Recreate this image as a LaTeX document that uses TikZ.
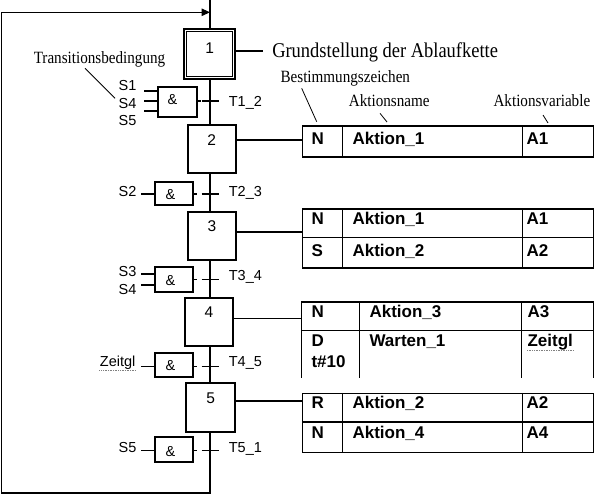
\documentclass[tikz,border=0pt]{standalone}
\usepackage{fontspec}
\setmainfont{Liberation Sans}
\newfontfamily\serifrm[FakeStretch=0.88]{Liberation Serif}
\usetikzlibrary{arrows.meta}
\begin{document}
\begin{tikzpicture}[x=1pt,y=-1pt,line width=1.1pt,
  stepbox/.style={draw,minimum width=48pt,minimum height=48pt,inner sep=0pt},
  andbox/.style={draw,minimum width=38pt,minimum height=24pt,inner sep=0pt},
  lab/.style={inner sep=0pt,anchor=base west,font=\fontsize{14.5}{17}\selectfont},
  labr/.style={lab,anchor=base east},
  num/.style={inner sep=0pt,anchor=base,font=\fontsize{15.5}{18}\selectfont},
  amp/.style={inner sep=0pt,anchor=center,font=\fontsize{14.5}{17}\selectfont},
  tab/.style={inner sep=0pt,anchor=base west,font=\fontsize{17}{20}\selectfont\bfseries},
  ser/.style={inner sep=0pt,anchor=base west,font=\serifrm\fontsize{17.2}{20}\selectfont},
  tablebox/.style={minimum width=291pt,inner sep=0pt},
  leader/.style={line width=0.8pt},
  squiggle/.style={line width=0.7pt,densely dotted,gray}]
\useasboundingbox (0,0) rectangle (594,495);

% ---------- steps
\node[stepbox,minimum width=51pt,minimum height=50pt] (s1) at (209.5,54) {};
\draw ([shift={(2.7,2.7)}]s1.north west) rectangle ([shift={(-2.7,-2.7)}]s1.south east);
\node[stepbox] (s2) at (212,149) {};
\node[stepbox] (s3) at (212,236) {};
\node[stepbox] (s4) at (209,322) {};
\node[stepbox,minimum width=49pt,minimum height=49pt] (s5) at (210.5,407.5) {};

\node[num] (n1) at (209.7,53.3) {1};
\node[num] (n2) at (211.7,145) {2};
\node[num] (n3) at (212,231.7) {3};
\node[num] (n4) at (209,317.3) {4};
\node[num] (n5) at (210.7,403.3) {5};

% ---------- main flow line with return arrow
\coordinate (top) at (210,0);
\coordinate (bot) at (210,493);
\coordinate (lb) at (1.5,493);
\coordinate (lt) at (1.5,12.3);
\coordinate (tip) at (210,12.3);
\draw (top) -- (top |- s1.north);
\draw (top |- s1.south) -- (top |- s2.north);
\draw (top |- s2.south) -- (top |- s3.north);
\draw (top |- s3.south) -- (top |- s4.north);
\draw (top |- s4.south) -- (top |- s5.north);
\draw[-{Triangle[length=8.5pt,width=7.5pt]}] (top |- s5.south) -- (bot) -- (lb) -- (lt) -- (tip);

% ---------- transitions
\coordinate (t1) at (210,101);
\coordinate (t2) at (210,194);
\coordinate (t3) at (210,279.3);
\coordinate (t4) at (210,366.7);
\coordinate (t5) at (210,450.7);
\foreach \n in {1,...,5} \draw ([xshift=-8.5pt]t\n) -- ([xshift=8.5pt]t\n);

% ---------- AND boxes
\node[andbox,minimum width=39pt,minimum height=30pt] (a1) at (177.5,102) {};
\node[andbox,minimum height=23pt] (a2) at (174,193.5) {};
\node[andbox,minimum height=25pt] (a3) at (174,279.5) {};
\node[andbox] (a4) at (174,365) {};
\node[andbox,minimum height=25pt] (a5) at (174,449.5) {};
\node[amp] (m1) at (172.5,100) {\&};
\node[amp] (m2) at (170.5,194.3) {\&};
\node[amp] (m3) at (170.5,281) {\&};
\node[amp] (m4) at (170.5,366) {\&};
\node[amp] (m5) at (170.5,452) {\&};
\foreach \n in {1,...,5} \draw (a\n.east |- t\n) -- ++(3.5,0);

% inputs
\draw ([yshift=11pt]a1.west) -- ++(-13,0);
\draw ([yshift=1pt]a1.west) -- ++(-13,0);
\draw ([yshift=-9pt]a1.west) -- ++(-13,0);
\draw (a2.west |- t2) -- ++(-13,0);
\draw ([yshift=5.5pt]a3.west) -- ++(-13,0);
\draw ([yshift=-5.5pt]a3.west) -- ++(-13,0);
\draw (a4.west |- t4) -- ++(-13,0);
\draw (a5.west |- t5) -- ++(-13,0);

\node[labr] (i11) at (137,90.7) {S1};
\node[labr] (i12) at (137,108.3) {S4};
\node[labr] (i13) at (137,125) {S5};
\node[labr] (i21) at (137,196.7) {S2};
\node[labr] (i31) at (137,276.7) {S3};
\node[labr] (i32) at (137,294) {S4};
\node[labr] (i41) at (136,366.7) {Zeitgl};
\draw[squiggle] ([yshift=-3.5pt]i41.base west) -- ([yshift=-3.5pt]i41.base east);
\node[labr] (i51) at (137,452.7) {S5};

\node[lab] (T1) at (228.3,106.7) {T1\_2};
\node[lab] (T2) at (228.3,196.7) {T2\_3};
\node[lab] (T3) at (228.3,280.7) {T3\_4};
\node[lab] (T4) at (228.3,366.7) {T4\_5};
\node[lab] (T5) at (228.3,452.7) {T5\_1};

% ---------- annotations
\node[ser,font=\serifrm\fontsize{21}{24}\selectfont] (g) at (271.7,58) {Grundstellung der Ablaufkette};
\draw ([yshift=3pt]s1.east) -- ++(27,0);
\node[ser,anchor=base] (tr) at (99.5,63.3) {Transitionsbedingung};
\draw[leader] ([shift={(-14.5,5)}]tr.base) -- ++(30,30);
\node[ser] (bz) at (280,82.7) {Bestimmungszeichen};
\draw[leader] ([shift={(21.7,5.6)}]bz.base west) -- ++(15,33.4);
\node[ser] (an) at (348.3,106.7) {Aktionsname};
\draw[leader] ([shift={(31.7,6.6)}]an.base west) -- ++(7,8.7);
\node[ser] (av) at (493,106.7) {Aktionsvariable};
\draw[leader] ([shift={(50,8.3)}]av.base west) -- ++(5,8);

% ---------- action table 1 (step 2)
\node[draw,tablebox,minimum height=31pt] (tb1) at (447.8,141.5) {};
\draw ([xshift=41pt]tb1.north west) -- ([xshift=41pt]tb1.south west);
\draw ([xshift=221pt]tb1.north west) -- ([xshift=221pt]tb1.south west);
\draw ([yshift=9pt]s2.east) -- ([yshift=9pt]s2.east -| tb1.west);
\node[tab] (c11) at (311,144) {N};
\node[tab] (c12) at (352,144) {Aktion\_1};
\node[tab] (c13) at (526,144) {A1};

% ---------- action table 2 (step 3)
\node[draw,tablebox,minimum height=59pt] (tb2) at (447.8,238.5) {};
\draw ([xshift=41pt]tb2.north west) -- ([xshift=41pt]tb2.south west);
\draw ([xshift=221pt]tb2.north west) -- ([xshift=221pt]tb2.south west);
\draw ([yshift=-29pt]tb2.north west) -- ([yshift=-29pt]tb2.north east);
\draw ([yshift=4pt]s3.east) -- ([yshift=4pt]s3.east -| tb2.west);
\node[tab] (c21) at (311,224.3) {N};
\node[tab] (c22) at (352,224.3) {Aktion\_1};
\node[tab] (c23) at (526,224.3) {A1};
\node[tab] (c24) at (311,256) {S};
\node[tab] (c25) at (352,256) {Aktion\_2};
\node[tab] (c26) at (526,256) {A2};

% ---------- action table 3 (step 4), open at the bottom
\node[tablebox,minimum height=74.5pt] (tb3) at (447.8,339.75) {};
\draw (tb3.south west) -- (tb3.north west) -- (tb3.north east) -- (tb3.south east);
\draw ([xshift=58pt]tb3.north west) -- ([xshift=58pt]tb3.south west);
\draw ([xshift=220pt]tb3.north west) -- ([xshift=220pt]tb3.south west);
\draw ([yshift=-28.5pt]tb3.north west) -- ([yshift=-28.5pt]tb3.north east);
\draw ([yshift=3.7pt]s4.east) -- ([yshift=3.7pt]s4.east -| tb3.west);
\node[tab] (c31) at (311,317) {N};
\node[tab] (c32) at (369,317) {Aktion\_3};
\node[tab] (c33) at (527,317) {A3};
\node[tab] (c34) at (311,346.5) {D};
\node[tab] (c35) at (311,367) {t\#10};
\node[tab] (c36) at (369,346.5) {Warten\_1};
\node[tab] (c37) at (527,346.5) {Zeitgl};
\draw[squiggle] ([yshift=-4pt]c37.base west) -- ([yshift=-4pt]c37.base east);

% ---------- action table 4 (step 5)
\node[draw,tablebox,minimum height=59.4pt] (tb4) at (447.8,423) {};
\draw ([xshift=41pt]tb4.north west) -- ([xshift=41pt]tb4.south west);
\draw ([xshift=220.5pt]tb4.north west) -- ([xshift=220.5pt]tb4.south west);
\draw ([yshift=-29.2pt]tb4.north west) -- ([yshift=-29.2pt]tb4.north east);
\draw ([yshift=6.5pt]s5.east) -- ([yshift=6.5pt]s5.east -| tb4.west);
\node[tab] (c41) at (311,408.3) {R};
\node[tab] (c42) at (352,408.3) {Aktion\_2};
\node[tab] (c43) at (526,408.3) {A2};
\node[tab] (c44) at (311,438.3) {N};
\node[tab] (c45) at (352,438.3) {Aktion\_4};
\node[tab] (c46) at (526,438.3) {A4};
\end{tikzpicture}
\end{document}
